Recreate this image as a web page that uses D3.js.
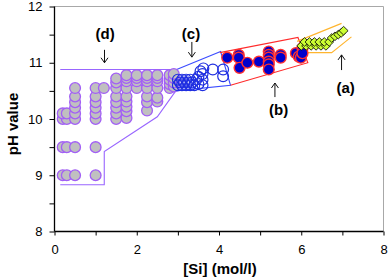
<!DOCTYPE html>
<html>
<head>
<meta charset="utf-8">
<script src="https://cdn.jsdelivr.net/npm/d3@7"></script>
<style>
  body { margin: 0; background: #fff; }
  svg { display: block; font-family: "Liberation Sans", Arial, sans-serif; }
</style>
</head>
<body>
<svg id="chart" width="388" height="278"></svg>
<script>
// group (d): grey circles, [Si], pH
const groupD = [
  [0.2, 9.0], [0.3, 9.0], [0.5, 9.0], [1.0, 9.0],
  [0.2, 9.5], [0.3, 9.5], [0.5, 9.5], [1.0, 9.5],
  [0.2, 10.0], [0.3, 10.0], [0.2, 10.1], [0.3, 10.1],
  [0.5, 10.0], [0.5, 10.1], [0.5, 10.2], [0.5, 10.3], [0.5, 10.4], [0.5, 10.55],
  [1.0, 10.0], [1.0, 10.1], [1.0, 10.2], [1.0, 10.3], [1.0, 10.4], [1.0, 10.55],
  [1.2, 10.55],
  [1.5, 10.0], [1.5, 10.1], [1.5, 10.2], [1.5, 10.3], [1.5, 10.4],
  [1.5, 10.55], [1.5, 10.65], [1.5, 10.72],
  [1.75, 10.02], [1.75, 10.14], [1.75, 10.22], [1.75, 10.31], [1.75, 10.4],
  [1.75, 10.55], [1.75, 10.67], [1.75, 10.73], [1.75, 10.78],
  [2.0, 10.55], [2.0, 10.67], [2.0, 10.73], [2.0, 10.78],
  [2.25, 10.15], [2.25, 10.3], [2.25, 10.4],
  [2.25, 10.55], [2.25, 10.67], [2.25, 10.73], [2.25, 10.78],
  [2.5, 10.31], [2.5, 10.38],
  [2.5, 10.55], [2.5, 10.67], [2.5, 10.73], [2.5, 10.78],
  [2.8, 10.55], [2.8, 10.62], [2.8, 10.7], [2.8, 10.78],
  [2.9, 10.58], [2.9, 10.65], [2.9, 10.73], [2.9, 10.8]
];

// group (c): open blue circles
const groupC = [
  [3.0, 10.6], [3.0, 10.7], [3.05, 10.65], [3.1, 10.6], [3.1, 10.7],
  [3.15, 10.65], [3.2, 10.6], [3.2, 10.7], [3.25, 10.65], [3.3, 10.6],
  [3.3, 10.7], [3.35, 10.65], [3.4, 10.6], [3.45, 10.7], [3.5, 10.62],
  [3.5, 10.75], [3.55, 10.85], [3.6, 10.8], [3.6, 10.7], [3.62, 10.9],
  [3.6, 10.6], [3.85, 10.88], [4.1, 10.88], [4.1, 10.76]
];

// group (b): blue circles with red rim
const groupB = [
  [4.2, 11.09], [4.48, 11.14], [4.48, 11.09], [4.5, 10.91], [4.69, 11.0],
  [4.97, 11.02], [5.21, 11.2], [5.21, 11.14], [5.21, 11.09], [5.21, 11.02],
  [5.21, 10.97], [5.21, 10.88], [5.5, 11.14], [5.5, 11.09],
  [5.87, 11.17], [5.94, 11.11], [5.99, 11.09], [6.03, 11.26], [6.03, 11.17]
];

// group (a): diamonds
const groupA = [
  [6.0, 11.3], [6.12, 11.3], [6.24, 11.3], [6.36, 11.3], [6.48, 11.3], [6.6, 11.3],
  [6.08, 11.37], [6.2, 11.37], [6.32, 11.37], [6.44, 11.37], [6.56, 11.37], [6.68, 11.37],
  [6.74, 11.44], [6.82, 11.47], [6.9, 11.5], [6.97, 11.53], [7.03, 11.57]
];

// outlines drawn round each group
const outlineD = [[[0.14, 10.88], [2.97, 10.88]],
  [[0.14, 8.83], [1.21, 8.83], [1.21, 9.42], [2.5, 10.04], [2.95, 10.5]]];
const outlineC = [[[2.97, 10.88], [4.04, 11.2], [4.28, 10.6], [2.95, 10.5]]];
const outlineB = [[[4.02, 11.18], [5.92, 11.45], [6.16, 11.0], [4.28, 10.6]]];
const outlineA = [[[5.9, 11.38], [6.98, 11.7]],
  [[6.0, 11.18], [6.74, 11.18], [7.22, 11.46]]];

const labels = [
  { t: "(d)", x: 1.23, y: 11.43, dir: "down", ax: 1.216, a0: 11.23, a1: 11.0 },
  { t: "(c)", x: 3.32, y: 11.43, dir: "down", ax: 3.34, a0: 11.37, a1: 11.1 },
  { t: "(b)", x: 5.45, y: 10.07, dir: "up", ax: 5.36, a0: 10.64, a1: 10.39 },
  { t: "(a)", x: 7.08, y: 10.46, dir: "up", ax: 6.98, a0: 11.14, a1: 10.87 }
];

const xTicks = d3.range(0, 8.01, 1);
const yTicks = d3.range(8, 12.01, 0.5);

const svg = d3.select("#chart");
const x = d3.scaleLinear().domain([0, 8]).range([54.5, 383.5]);
const y = d3.scaleLinear().domain([8, 12]).range([231.5, 6.5]);

// frame top/right
svg.append("path")
  .attr("d", `M${x(0)},${y(12)}H${x(8)}V${y(8)}`)
  .attr("fill", "none").attr("stroke", "#a8a8a8").attr("stroke-width", 1);

const line = d3.line().x(d => x(d[0])).y(d => y(d[1]));
function outline(pts, col) {
  svg.append("g").selectAll("path").data(pts).join("path")
    .attr("d", line).attr("fill", "none")
    .attr("stroke", col).attr("stroke-width", 1.1);
}
outline(outlineD, "#9966ff");
outline(outlineC, "#3b4cff");
outline(outlineB, "#ff2b2b");
outline(outlineA, "#ffb52e");

svg.append("g").selectAll("circle").data(groupD).join("circle")
  .attr("cx", d => x(d[0])).attr("cy", d => y(d[1])).attr("r", 5.4)
  .attr("fill", "#c0c0c0").attr("stroke", "#a25ff5").attr("stroke-width", 1.3);

svg.append("g").selectAll("circle").data(groupC).join("circle")
  .attr("cx", d => x(d[0])).attr("cy", d => y(d[1])).attr("r", 5.4)
  .attr("fill", "none").attr("stroke", "#1f2ee0").attr("stroke-width", 1.2);

svg.append("g").selectAll("circle").data(groupB).join("circle")
  .attr("cx", d => x(d[0])).attr("cy", d => y(d[1])).attr("r", 5.4)
  .attr("fill", "#0000cc").attr("stroke", "#ff3030").attr("stroke-width", 1.4);

svg.append("g").selectAll("path").data(groupA).join("path")
  .attr("transform", d => `translate(${x(d[0])},${y(d[1])})`)
  .attr("d", "M0,-4.3L4.5,0L0,4.3L-4.5,0Z")
  .attr("fill", "#ccff33").attr("stroke", "#000").attr("stroke-width", 0.8);

// axes
const xAxis = d3.axisBottom(x).tickValues(xTicks).tickSize(4).tickPadding(9)
  .tickFormat(d => d % 2 === 0 ? d : "");
const gx = svg.append("g").attr("transform", `translate(0,${y(8)})`).call(xAxis);

const yAxis = d3.axisLeft(y).tickValues(yTicks).tickSize(5).tickPadding(7)
  .tickFormat(d => Number.isInteger(d) ? d : "");
const gy = svg.append("g").attr("transform", `translate(${x(0)},0)`).call(yAxis);

[gx, gy].forEach(g => {
  g.select(".domain").attr("stroke", "#000").attr("stroke-width", 1.3);
  g.selectAll(".tick line").attr("stroke", "#000");
  g.selectAll(".tick text").attr("fill", "#000")
    .style("font-size", "13px").style("font-family", "Liberation Sans, Arial, sans-serif");
});
gx.select(".domain").attr("d", `M${x(0)},0H${x(8)}`);
gy.select(".domain").attr("d", `M0,${y(8)}V${y(12)}`);

svg.append("text")
  .attr("x", 220).attr("y", 274)
  .attr("text-anchor", "middle")
  .style("font-size", "15px").style("font-weight", "bold")
  .text("[Si] (mol/l)");

svg.append("text")
  .attr("transform", "translate(18,124) rotate(-90)")
  .attr("text-anchor", "middle")
  .style("font-size", "15px").style("font-weight", "bold")
  .text("pH value");

// group labels and arrows
const lg = svg.append("g");
lg.selectAll("text").data(labels).join("text")
  .attr("x", d => x(d.x)).attr("y", d => y(d.y))
  .attr("text-anchor", "middle")
  .style("font-size", "15px").style("font-weight", "bold")
  .text(d => d.t);

lg.selectAll("path").data(labels).join("path")
  .attr("d", d => {
    const ax = x(d.ax), y0 = y(d.a0), y1 = y(d.a1);
    const tip = d.dir === "down" ? Math.max(y0, y1) : Math.min(y0, y1);
    const s = d.dir === "down" ? -1 : 1;
    return `M${ax},${y0}V${y1}M${ax - 3.5},${tip + s * 5}L${ax},${tip}L${ax + 3.5},${tip + s * 5}`;
  })
  .attr("fill", "none").attr("stroke", "#111").attr("stroke-width", 1);
</script>
</body>
</html>
